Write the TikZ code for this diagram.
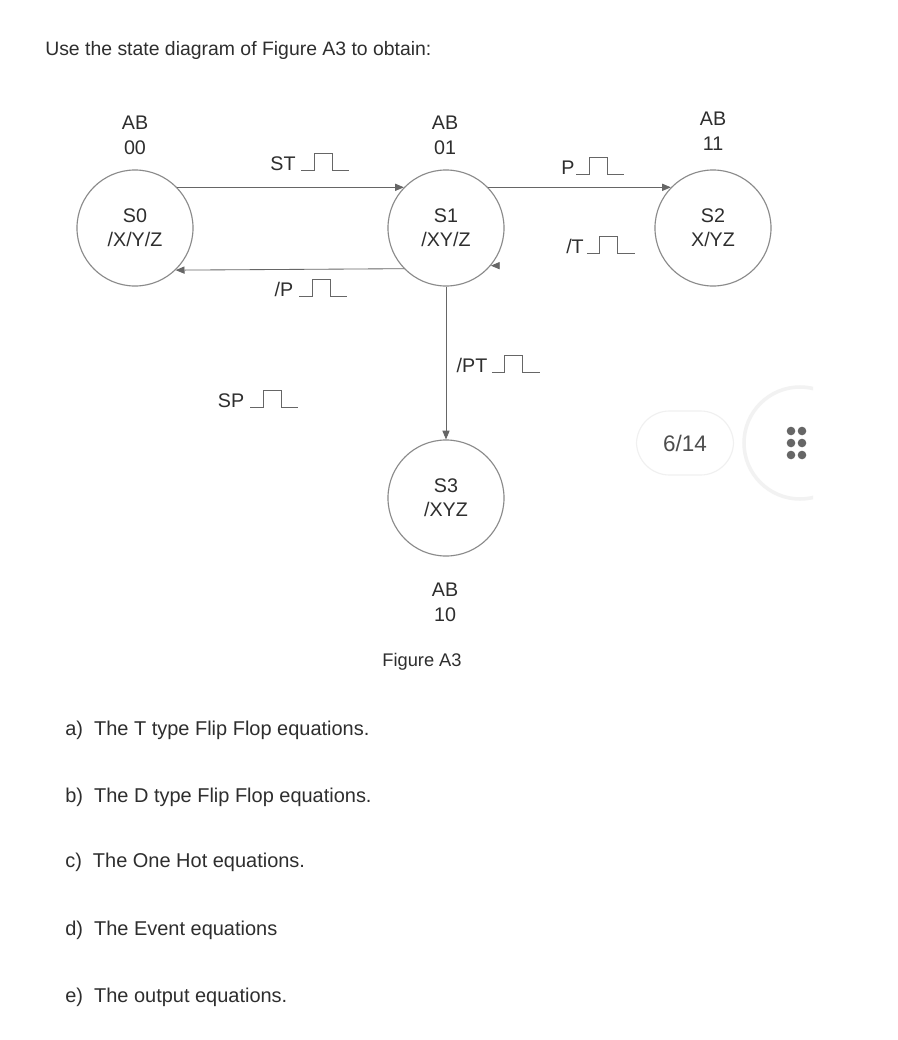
\documentclass[tikz,border=0pt]{standalone}
\usepackage{fontspec}
\setmainfont{Liberation Sans}
\usetikzlibrary{arrows.meta,positioning,calc}
\definecolor{txtgray}{HTML}{2E2E2E}
\definecolor{linegray}{HTML}{666666}
\definecolor{ringgray}{HTML}{8A8A8A}
\tikzset{
  state style/.style={circle, draw=ringgray, thick, minimum size=2.9cm,
    align=center, text=txtgray, font=\fontsize{14}{17}\selectfont},
  code style/.style={align=center, text=txtgray, font=\fontsize{14}{18}\selectfont},
  lbl style/.style={inner sep=1pt, text=txtgray, font=\fontsize{14}{17}\selectfont},
  arr style/.style={-{Triangle[length=2.2mm,width=1.8mm]}, draw=linegray, semithick},
  q style/.style={anchor=base west, inner sep=0pt, text=txtgray, font=\fontsize{14.2}{17}\selectfont},
  pulse sym/.pic={\draw[linegray, semithick] (0,0) -- (13,0) -- (13,-17) -- (31,-17) -- (31,0) -- (48,0);}
}
\begin{document}
\begin{tikzpicture}[x=0.025cm, y=-0.025cm]
\useasboundingbox[fill=white] (0,0) rectangle (898,1040);

% heading
\node[q style, font=\fontsize{13.8}{16}\selectfont] (title) at (45,55) {Use the state diagram of Figure A3 to obtain:};

% states
\node[state style] (s0) at (135,228) {S0\\/X/Y/Z};
\node[state style] (s1) at (446,228) {S1\\/XY/Z};
\node[state style] (s2) at (713,228) {S2\\X/YZ};
\node[state style] (s3) at (446,498) {S3\\/XYZ};

% state codes
\node[code style] (c0) at (135,135) {AB\\00};
\node[code style] (c1) at (445,135) {AB\\01};
\node[code style] (c2) at (713,131) {AB\\11};
\node[code style] (c3) at (445,602) {AB\\10};
\node[code style, font=\fontsize{13}{16}\selectfont] (fig) at (422,662) {Figure A3};

% transitions
\draw[arr style] (s0.44) -- (s1.136);
\draw[arr style] (s1.-136) -- (s0.-46);
\draw[arr style] (s1.44) -- (s2.136);
\draw[arr style] (s1.south) -- (s3.north);
\coordinate (tstub) at ($(s1.-40)+(5,0)$);
\draw[arr style] (tstub) -- (s1.-40);

% transition labels
\node[lbl style, anchor=base] (lst) at (283,170) {ST};
\pic at ([xshift=3pt]lst.base east) {pulse sym};
\node[lbl style, anchor=base] (lp) at (568,174) {P};
\pic at (lp.base east) {pulse sym};
\node[lbl style, anchor=base] (lt) at (575,253) {/T};
\pic at ([xshift=1pt]lt.base east) {pulse sym};
\node[lbl style, anchor=base] (lnp) at (284,296) {/P};
\pic at ([xshift=3pt]lnp.base east) {pulse sym};
\node[lbl style, anchor=base] (lpt) at (472,372) {/PT};
\pic at ([xshift=2pt]lpt.base east) {pulse sym};
\node[lbl style, anchor=base] (lsp) at (231,407) {SP};
\pic at ([xshift=3pt]lsp.base east) {pulse sym};

% page widgets
\node[rounded corners=33*0.025cm, draw=black!6, thick, fill=white, minimum width=97*0.025cm,
  minimum height=64*0.025cm, text=txtgray!85, font=\fontsize{16}{19}\selectfont] (pg) at (685,443) {6/14};
\begin{scope}
  \clip (735,370) rectangle (813,520);
  \draw[black!5, line width=2.5pt, fill=white] (800,443) circle (56);
\end{scope}
\foreach \dx in {791,802} {
  \foreach \dy in {431,443,455} {
    \fill[linegray] (\dx,\dy) circle (4.3);
  }
}

% questions
\node[q style] (qa) at (65,735) {a)\ \ The T type Flip Flop equations.};
\node[q style] (qb) at (65,802) {b)\ \ The D type Flip Flop equations.};
\node[q style] (qc) at (65,867) {c)\ \ The One Hot equations.};
\node[q style] (qd) at (65,935) {d)\ \ The Event equations};
\node[q style] (qe) at (65,1002) {e)\ \ The output equations.};

\end{tikzpicture}
\end{document}
